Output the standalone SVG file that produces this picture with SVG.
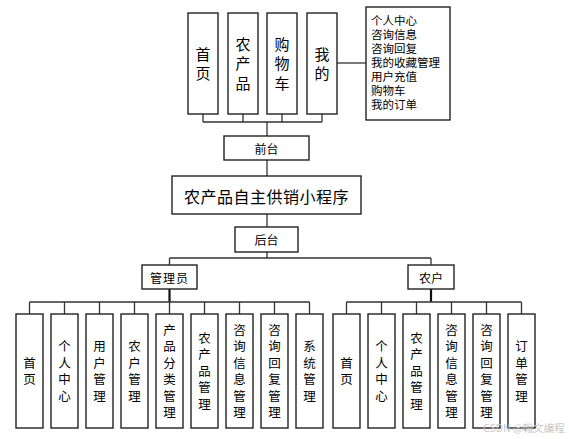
<svg xmlns="http://www.w3.org/2000/svg" width="569" height="439" viewBox="0 0 569 439">
<style>
  .box { fill: #fff; stroke: #222; stroke-width: 1.4; }
  .t { font-family: "Noto Sans CJK SC", "DejaVu Sans", sans-serif; fill: #000; text-anchor: middle; dominant-baseline: central; }
  .v { font-family: "Noto Sans CJK SC", "DejaVu Sans", sans-serif; fill: #000; text-anchor: middle; writing-mode: vertical-rl; }
  .v13 { font-size: 12.5px; letter-spacing: 4px; }
  .v15 { font-size: 15px; letter-spacing: 4.5px; }
  .s12 { font-size: 12px; }
  .s16 { font-size: 16px; }
  .list { font-family: "Liberation Sans", "Noto Sans CJK SC", sans-serif; font-size: 11.5px; fill: #000; }
  .ln { fill: none; stroke: #333; stroke-width: 1.3; }
  .thick { fill: none; stroke: #111; stroke-width: 2.2; }
  .wm { font-family: "Noto Sans CJK SC", "DejaVu Sans", sans-serif; font-size: 10.5px; fill: #c8c8c8; }
</style>
<rect width="569" height="439" fill="#fff"/>

<g id="connectors">
  <path class="ln" d="M203,114 V122 M243,114 V122 M282,114 V122 M322,114 V122 M203,122 H322 M267,122 V136"/>
  <path class="ln" d="M337,63 H366"/>
  <path class="ln" d="M267,160 V176 M267,214 V227 M267,252 V258 M169.5,258 H431 M169.5,258 V265 M431,258 V265"/>
  <path class="thick" d="M169.5,289 V302"/>
  <path class="ln" d="M29.5,302 H309.5 M29.5,302 V314 M64.5,302 V314 M99.5,302 V314 M134.5,302 V314 M169.5,302 V314 M204.5,302 V314 M239.5,302 V314 M274.5,302 V314 M309.5,302 V314"/>
  <path class="thick" d="M431,289 V302"/>
  <path class="ln" d="M346.5,302 H521.5 M346.5,302 V314 M381.5,302 V314 M416.5,302 V314 M451.5,302 V314 M486.5,302 V314 M521.5,302 V314"/>
</g>

<g id="node-home">
  <rect class="box" x="188" y="13" width="30" height="101"/>
  <text class="v v15" x="203" y="66">首页</text>
</g>
<g id="node-products">
  <rect class="box" x="228" y="13" width="30" height="101"/>
  <text class="v v15" x="243" y="66">农产品</text>
</g>
<g id="node-cart">
  <rect class="box" x="267" y="13" width="30" height="101"/>
  <text class="v v15" x="282" y="66">购物车</text>
</g>
<g id="node-mine">
  <rect class="box" x="307" y="13" width="30" height="101"/>
  <text class="v v15" x="322" y="66">我的</text>
</g>
<g id="node-mine-list">
  <rect class="box" x="366" y="7" width="84" height="113"/>
  <text class="list" x="371" y="25">个人中心</text>
  <text class="list" x="371" y="39">咨询信息</text>
  <text class="list" x="371" y="53">咨询回复</text>
  <text class="list" x="371" y="67">我的收藏管理</text>
  <text class="list" x="371" y="81">用户充值</text>
  <text class="list" x="371" y="95">购物车</text>
  <text class="list" x="371" y="109">我的订单</text>
</g>
<g id="node-frontend">
  <rect class="box" x="224" y="136" width="85" height="24"/>
  <text class="t s12" x="266.5" y="148">前台</text>
</g>
<g id="node-system">
  <rect class="box" x="172" y="176" width="189" height="38"/>
  <text class="t s16" x="266.5" y="195.5" letter-spacing="0.5">农产品自主供销小程序</text>
</g>
<g id="node-backend">
  <rect class="box" x="235" y="227" width="63" height="25"/>
  <text class="t s12" x="266.5" y="239.5">后台</text>
</g>
<g id="node-admin">
  <rect class="box" x="142" y="265" width="55" height="24"/>
  <text class="t s12" x="169.5" y="277" letter-spacing="1">管理员</text>
</g>
<g id="node-farmer">
  <rect class="box" x="408" y="265" width="46" height="24"/>
  <text class="t s12" x="431" y="277">农户</text>
</g>

<g id="admin-home">
  <rect class="box" x="16" y="314" width="27" height="114"/>
  <text class="v v13" x="29.5" y="373">首页</text>
</g>
<g id="admin-profile">
  <rect class="box" x="51" y="314" width="27" height="114"/>
  <text class="v v13" x="64.5" y="373">个人中心</text>
</g>
<g id="admin-users">
  <rect class="box" x="86" y="314" width="27" height="114"/>
  <text class="v v13" x="99.5" y="373">用户管理</text>
</g>
<g id="admin-farmers">
  <rect class="box" x="121" y="314" width="27" height="114"/>
  <text class="v v13" x="134.5" y="373">农户管理</text>
</g>
<g id="admin-categories">
  <rect class="box" x="156" y="314" width="27" height="114"/>
  <text class="v v13" x="169.5" y="373">产品分类管理</text>
</g>
<g id="admin-products">
  <rect class="box" x="191" y="314" width="27" height="114"/>
  <text class="v v13" x="204.5" y="373">农产品管理</text>
</g>
<g id="admin-inquiries">
  <rect class="box" x="226" y="314" width="27" height="114"/>
  <text class="v v13" x="239.5" y="373">咨询信息管理</text>
</g>
<g id="admin-replies">
  <rect class="box" x="261" y="314" width="27" height="114"/>
  <text class="v v13" x="274.5" y="373">咨询回复管理</text>
</g>
<g id="admin-system">
  <rect class="box" x="296" y="314" width="27" height="114"/>
  <text class="v v13" x="309.5" y="373">系统管理</text>
</g>

<g id="farmer-home">
  <rect class="box" x="333" y="314" width="27" height="114"/>
  <text class="v v13" x="346.5" y="373">首页</text>
</g>
<g id="farmer-profile">
  <rect class="box" x="368" y="314" width="27" height="114"/>
  <text class="v v13" x="381.5" y="373">个人中心</text>
</g>
<g id="farmer-products">
  <rect class="box" x="403" y="314" width="27" height="114"/>
  <text class="v v13" x="416.5" y="373">农产品管理</text>
</g>
<g id="farmer-inquiries">
  <rect class="box" x="438" y="314" width="27" height="114"/>
  <text class="v v13" x="451.5" y="373">咨询信息管理</text>
</g>
<g id="farmer-replies">
  <rect class="box" x="473" y="314" width="27" height="114"/>
  <text class="v v13" x="486.5" y="373">咨询回复管理</text>
</g>
<g id="farmer-orders">
  <rect class="box" x="508" y="314" width="27" height="114"/>
  <text class="v v13" x="521.5" y="373">订单管理</text>
</g>

<text class="wm" x="483" y="432">CSDN @翰文编程</text>
</svg>
